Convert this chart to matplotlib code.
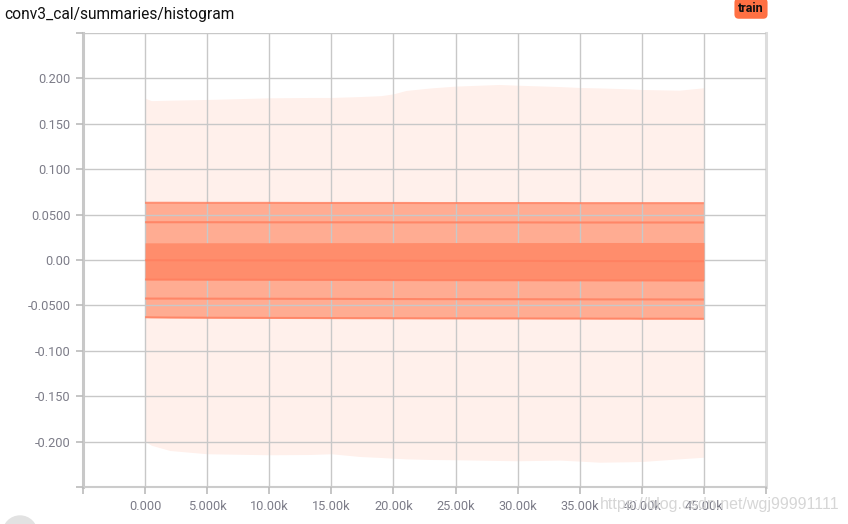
import matplotlib
matplotlib.use("Agg")
import matplotlib.pyplot as plt
from matplotlib.patches import Ellipse

# ---- data ----
steps = [0, 500, 2000, 5000, 10000, 13300, 15000, 17300, 19000, 20000, 21000,
         23000, 25000, 28500, 30000, 33400, 35000, 36600, 39000, 40000, 43000, 45000]
p_max = [0.1782, 0.1755, 0.1760, 0.1768, 0.1786, 0.1790, 0.1790, 0.1800, 0.1810, 0.1830, 0.1867,
         0.1895, 0.1915, 0.1933, 0.1925, 0.1910, 0.1900, 0.1895, 0.1885, 0.1878, 0.1870, 0.1897]
p93 = [0.0630, 0.0630, 0.0630, 0.0629, 0.0629, 0.0628, 0.0628, 0.0628, 0.0628, 0.0628, 0.0628,
       0.0627, 0.0627, 0.0627, 0.0627, 0.0627, 0.0626, 0.0626, 0.0626, 0.0626, 0.0626, 0.0626]
p84 = [0.0416, 0.0416, 0.0416, 0.0416, 0.0415, 0.0415, 0.0415, 0.0415, 0.0415, 0.0414, 0.0414,
       0.0414, 0.0414, 0.0414, 0.0414, 0.0413, 0.0413, 0.0413, 0.0413, 0.0413, 0.0413, 0.0413]
p69 = [0.0189, 0.0189, 0.0189, 0.0190, 0.0190, 0.0190, 0.0191, 0.0191, 0.0191, 0.0191, 0.0191,
       0.0192, 0.0192, 0.0192, 0.0192, 0.0192, 0.0193, 0.0193, 0.0193, 0.0193, 0.0193, 0.0193]
p50 = [-0.0002, -0.0002, -0.0003, -0.0004, -0.0005, -0.0006, -0.0006, -0.0007, -0.0007, -0.0008, -0.0008,
       -0.0009, -0.0009, -0.0010, -0.0010, -0.0011, -0.0011, -0.0012, -0.0012, -0.0012, -0.0013, -0.0013]
p31 = [-0.0215, -0.0216, -0.0216, -0.0217, -0.0218, -0.0219, -0.0219, -0.0220, -0.0220, -0.0221, -0.0221,
       -0.0222, -0.0222, -0.0223, -0.0223, -0.0224, -0.0224, -0.0225, -0.0225, -0.0225, -0.0226, -0.0226]
p16 = [-0.0424, -0.0425, -0.0425, -0.0426, -0.0427, -0.0428, -0.0428, -0.0429, -0.0429, -0.0430, -0.0430,
       -0.0431, -0.0431, -0.0432, -0.0432, -0.0433, -0.0433, -0.0434, -0.0434, -0.0434, -0.0435, -0.0435]
p7 = [-0.0630, -0.0632, -0.0634, -0.0636, -0.0638, -0.0639, -0.0640, -0.0641, -0.0641, -0.0642, -0.0642,
      -0.0643, -0.0643, -0.0644, -0.0644, -0.0645, -0.0645, -0.0646, -0.0646, -0.0647, -0.0647, -0.0648]
p_min = [-0.1998, -0.2040, -0.2098, -0.2134, -0.2145, -0.2142, -0.2134, -0.2164, -0.2175, -0.2183, -0.2190,
         -0.2197, -0.2200, -0.2208, -0.2211, -0.2204, -0.2215, -0.2227, -0.2222, -0.2219, -0.2190, -0.2172]

x_ticks = [-5000, 0, 5000, 10000, 15000, 20000, 25000, 30000, 35000, 40000, 45000, 50000]
x_labels = ["", "0.000", "5.000k", "10.00k", "15.00k", "20.00k", "25.00k",
            "30.00k", "35.00k", "40.00k", "45.00k", ""]
y_ticks = [-0.25, -0.2, -0.15, -0.1, -0.05, 0.0, 0.05, 0.1, 0.15, 0.2, 0.25]
y_labels = ["", "-0.200", "-0.150", "-0.100", "-0.0500", "0.00", "0.0500",
            "0.100", "0.150", "0.200", ""]

title = "conv3_cal/summaries/histogram"
run_name = "train"
watermark = "https://blog.csdn.net/wgj99991111"

# ---- figure ----
W, H = 848, 524
fig = plt.figure(figsize=(W / 100, H / 100), dpi=100)
ax = fig.add_axes([83 / W, 1 - 487 / H, (766 - 83) / W, (487 - 33) / H])

light = "#fff0eb"
medium = "#ffac92"
dark = "#ff8d6c"
linec = "#ff8060"

ax.fill_between(steps, p_min, p_max, color=light, lw=0, zorder=1)
ax.fill_between(steps, p7, p93, color=medium, lw=0, zorder=2)
ax.fill_between(steps, p31, p69, color=dark, lw=0, zorder=3)
for s in [p93, p84, p50, p31, p16, p7]:
    ax.plot(steps, s, color=linec, lw=1.5, alpha=0.85, zorder=4, solid_capstyle="butt")

ax.set_xlim(-5000, 50000)
ax.set_ylim(-0.25, 0.25)
ax.set_xticks(x_ticks)
ax.set_xticklabels(x_labels)
ax.set_yticks(y_ticks)
ax.set_yticklabels(y_labels)

ax.grid(True, color="#c8c8c8", lw=1.0, zorder=5)
ax.set_axisbelow(False)
for gl, t in zip(ax.get_xgridlines(), x_ticks):
    if t in (-5000, 50000):
        gl.set_visible(False)

ax.spines["top"].set_visible(False)
ax.spines["left"].set_color("#c8c8c8")
ax.spines["left"].set_linewidth(2.2)
ax.spines["bottom"].set_color("#cccccc")
ax.spines["bottom"].set_linewidth(1.5)
ax.spines["right"].set_color("#dddddd")
ax.spines["right"].set_linewidth(2.2)

ax.tick_params(axis="both", colors="#bbbbbb", length=5, width=1.2,
               labelcolor="#7c7c88", labelsize=9.2)
ax.tick_params(axis="x", pad=4)
ax.tick_params(axis="y", pad=4)
for lab in ax.get_xticklabels() + ax.get_yticklabels():
    lab.set_fontfamily("Roboto")

fig.text(4 / W, 1 - 14 / H, title, fontsize=11.2, family="Roboto",
         color="#111111", va="center", ha="left")

fig.text(751 / W, 1 - 8.5 / H, run_name, fontsize=9, family="Roboto", weight="bold",
         color="#111111", va="center", ha="center",
         bbox=dict(boxstyle="round,pad=0.3,rounding_size=0.35", fc="#ff7043", ec="none"))

fig.text(600 / W, 1 - 505 / H, watermark, fontsize=11.5, family="Liberation Sans",
         color="#d6d6d6", va="center", ha="left")

circ = Ellipse((20 / W, 1 - 533 / H), 34 / W, 34 / H, transform=fig.transFigure,
               color="#e2e2e2", clip_on=False)
fig.patches.append(circ)

fig.savefig("out.png", dpi=100)
